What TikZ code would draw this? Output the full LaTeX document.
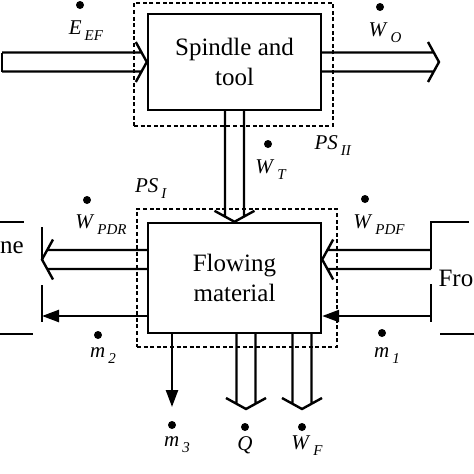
\documentclass[tikz,border=0pt]{standalone}
\usepackage{fontspec}
\setmainfont{Liberation Serif}
\usetikzlibrary{calc,arrows.meta}
\newcommand{\lab}[2]{\textit{#1}\hspace{3pt}\raisebox{-6pt}{\fontsize{15}{15}\selectfont\textit{#2}}}
\begin{document}
\begin{tikzpicture}[x=1pt,y=-1pt,
  box/.style={draw,line width=2.4pt,inner sep=0pt,align=center,font=\fontsize{25}{30}\selectfont},
  dbox/.style={draw,line width=2pt,dash pattern=on 4pt off 2.6pt,inner sep=0pt},
  lbl/.style={font=\fontsize{21}{21}\selectfont,inner sep=0pt},
  txt/.style={font=\fontsize{25}{30}\selectfont,inner sep=0pt},
  dotm/.style={circle,fill,inner sep=0pt,minimum size=8pt},
  ln/.style={line width=2.4pt},
  tri/.style={ln,-{Triangle[length=17pt,width=12pt]}},
  dblarrow/.style={ln,to path={
    ($(\tikztotarget)!5.2pt!(\tikztostart)$) coordinate (dM)
    ($(\tikztotarget)!11pt!(\tikztostart)$) coordinate (dB)
    ($(\tikztostart)!9.5pt!90:(\tikztotarget)$) -- ($(dM)!9.5pt!-90:(\tikztostart)$)
    ($(\tikztostart)!9.5pt!-90:(\tikztotarget)$) -- ($(dM)!9.5pt!90:(\tikztostart)$)
    ($(dB)!20pt!-90:(\tikztostart)$) -- (\tikztotarget) -- ($(dB)!20pt!90:(\tikztostart)$)
  }}]
\useasboundingbox (0,0) rectangle (474,474);

% dashed system boundaries
\node[dbox,minimum width=199pt,minimum height=123pt] (ps2) at (233.5,64.5) {};
\node[dbox,minimum width=200pt,minimum height=138pt] (ps1) at (237,278) {};

% boxes
\node[box,minimum width=173pt,minimum height=96pt] (spin) at (234.5,62) {Spindle and\\tool};
\node[box,minimum width=173pt,minimum height=110pt] (flow) at (234.5,278) {Flowing\\material};

% free ends
\coordinate (eef) at (2,62);
\coordinate (wo) at (439,62);
\coordinate (pdr) at (42,259.5);
\coordinate (m2e) at (42,316);
\coordinate (pdf) at (431,259.5);
\coordinate (m1s) at (431,316);
\coordinate (m3e) at (172,407);
\coordinate (qe) at (246,409);
\coordinate (wfe) at (302,409);

% connectors
\draw[dblarrow] (eef) to (spin.west);
\draw[ln] ($(eef)+(0,-9.5)$) -- ($(eef)+(0,9.5)$);
\draw[dblarrow] (spin.east) to (wo);
\draw[dblarrow] (spin.south) to (flow.north);
\draw[dblarrow] (flow.west |- pdr) to (pdr);
\draw[tri] (flow.west |- m2e) -- (m2e);
\draw[dblarrow] (pdf) to (flow.east |- pdf);
\draw[tri] (m1s) -- (flow.east |- m1s);
\draw[tri] (flow.south -| m3e) -- (m3e);
\draw[dblarrow] (flow.south -| qe) to (qe);
\draw[dblarrow] (flow.south -| wfe) to (wfe);

% boundary brackets
\draw[ln] (0,222) -- (24,222);
\draw[ln] (42,227) -- (42,260);
\draw[ln] (42,285) -- (42,322);
\draw[ln] (0,334) -- (33,334);
\draw[ln] (469,222) -- (431,222) -- (431,269);
\draw[ln] (431,284) -- (431,322);
\draw[ln] (440,334) -- (474,334);
\node[txt,anchor=east] (tne) at (24,248) {ne};
\node[txt,anchor=east] (tfro) at (473.5,278) {Fro};

% dots and labels
\node[dotm] (d1) at (80,5) {};   \node[lbl] (l1) at (86,31) {\lab{E}{EF}};
\node[dotm] (d2) at (380,7) {};  \node[lbl] (l2) at (385,33) {\lab{W}{O}};
\node[lbl] (l3) at (333,146) {\lab{PS}{II}};
\node[dotm] (d4) at (268,144) {};\node[lbl] (l4) at (271,170) {\lab{W}{T}};
\node[lbl] (l5) at (151,189) {\lab{PS}{I}};
\node[dotm] (d6) at (87,200) {}; \node[lbl] (l6) at (101,225) {\lab{W}{PDR}};
\node[dotm] (d7) at (365,199) {};\node[lbl] (l7) at (379,225) {\lab{W}{PDF}};
\node[dotm] (d8) at (98,335) {}; \node[lbl] (l8) at (103,356) {\lab{m}{2}};
\node[dotm] (d9) at (382,333) {};\node[lbl] (l9) at (387,356) {\lab{m}{1}};
\node[dotm] (d10) at (172,425) {};\node[lbl] (l10) at (177,445) {\lab{m}{3}};
\node[dotm] (d11) at (245,427) {};\node[lbl] (l11) at (245,445) {\textit{Q}};
\node[dotm] (d12) at (302,427) {};\node[lbl] (l12) at (307,446) {\lab{W}{F}};
\end{tikzpicture}
\end{document}
